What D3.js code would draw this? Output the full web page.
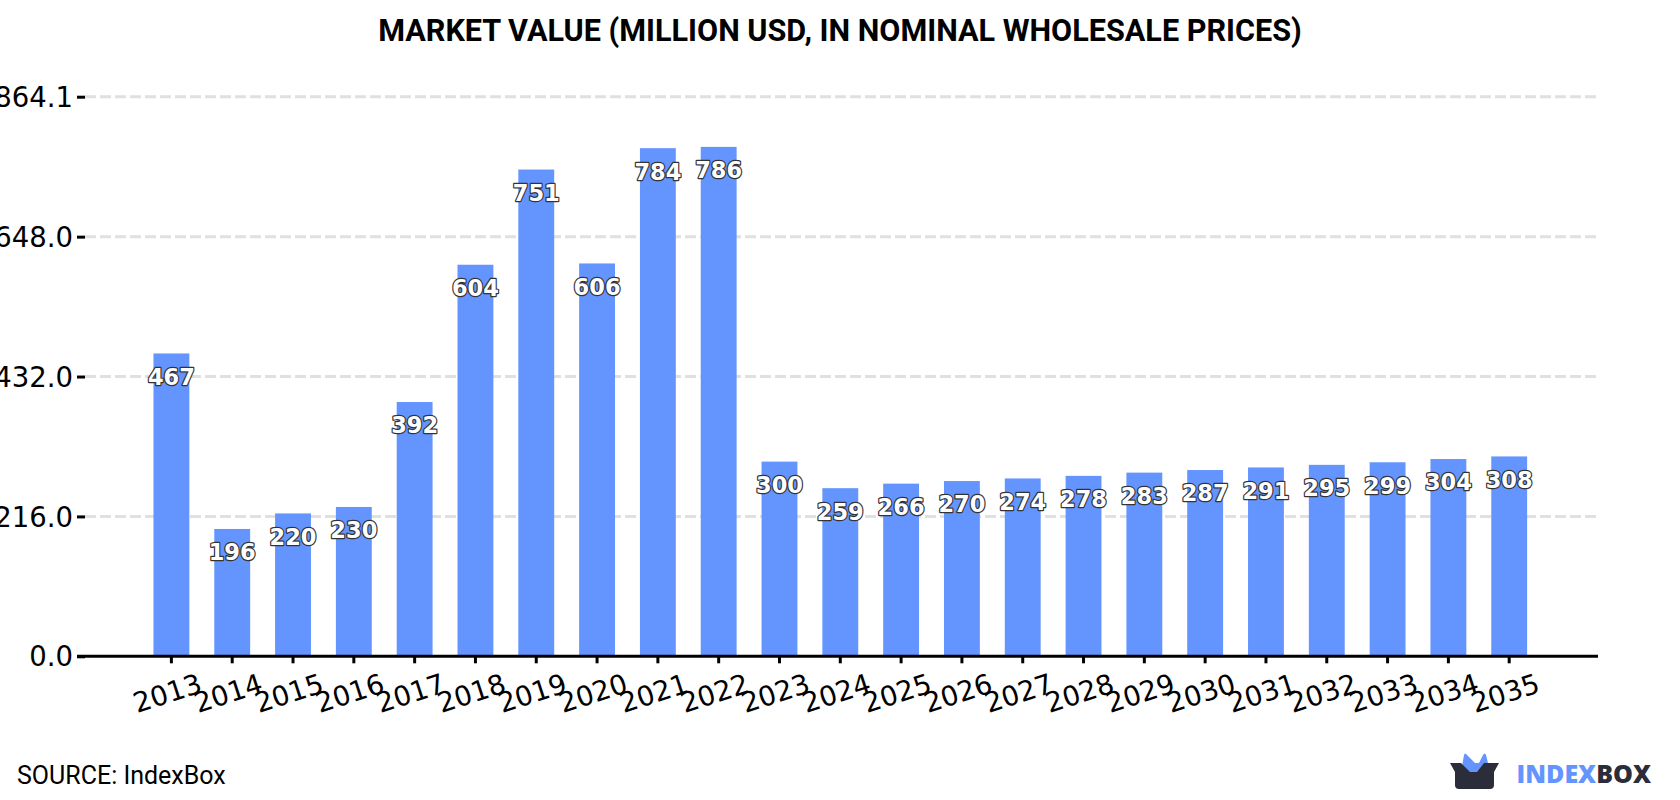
<!DOCTYPE html>
<html>
<head>
<meta charset="utf-8">
<script src="https://cdn.jsdelivr.net/npm/d3@7"></script>
<style>
  html, body { margin: 0; padding: 0; background: #fff; overflow: hidden; }
  svg { display: block; }
  .tick-y text, .tick-x text { font-family: "DejaVu Sans", sans-serif; font-size: 27.5px; fill: #000; }
</style>
</head>
<body>
<svg id="chart" width="1680" height="800"></svg>
<script>
const years = ["2013","2014","2015","2016","2017","2018","2019","2020","2021","2022","2023","2024",
               "2025","2026","2027","2028","2029","2030","2031","2032","2033","2034","2035"];
const marketValues = [467,196,220,230,392,604,751,606,784,786,300,259,266,270,274,278,283,287,291,295,299,304,308];
const yTicks = [0, 216, 432, 648, 864.1];
const chartTitle = "MARKET VALUE (MILLION USD, IN NOMINAL WHOLESALE PRICES)";
const sourceText = "SOURCE: IndexBox";

const BAR_COLOR = "#6495ff";
const DARK = "#2b2d3a";

const svg = d3.select("#chart");

const y = d3.scaleLinear().domain([0, 864.1]).range([656.3, 96.7]);
const x = d3.scaleBand().domain(years).range([141, 1539.6]).paddingInner(0.41).paddingOuter(0.205);
const axisLeft = 77, axisRight = 1598;

svg.append("text")
  .attr("x", 840).attr("y", 41)
  .attr("text-anchor", "middle")
  .attr("font-family", "Roboto, sans-serif")
  .attr("font-weight", 700)
  .attr("font-size", 30.6)
  .attr("fill", "#000")
  .text(chartTitle);

// Dashed gridlines, skipping the baseline
svg.append("g").selectAll("line")
  .data(yTicks.filter(d => d > 0))
  .join("line")
  .attr("x1", 85).attr("x2", axisRight)
  .attr("y1", d => y(d)).attr("y2", d => y(d))
  .attr("stroke", "#e0e0e0")
  .attr("stroke-width", 3)
  .attr("stroke-dasharray", "11 4");

// Bars
svg.append("g").selectAll("rect")
  .data(years)
  .join("rect")
  .attr("x", d => x(d))
  .attr("width", x.bandwidth())
  .attr("y", (d, i) => y(marketValues[i]) - 0.4)
  .attr("height", (d, i) => y(0) - y(marketValues[i]) + 0.4)
  .attr("fill", BAR_COLOR);

// Y axis
const gy = svg.append("g").attr("class", "tick-y")
  .attr("transform", `translate(${axisLeft + 8},0)`)
  .call(d3.axisLeft(y).tickValues(yTicks).tickFormat(d3.format(".1f")).tickSize(8).tickPadding(4));
gy.select(".domain").remove();
gy.selectAll(".tick line").attr("stroke", "#000").attr("stroke-width", 3);
gy.selectAll(".tick text").attr("dy", "0.35em");

// X axis with slanted year labels
const gx = svg.append("g").attr("class", "tick-x")
  .attr("transform", `translate(0,${y(0)})`)
  .call(d3.axisBottom(x).tickSize(7).tickSizeOuter(0));
gx.select(".domain").remove();
gx.selectAll(".tick line").attr("stroke", "#000").attr("stroke-width", 3);
gx.selectAll(".tick text")
  .attr("text-anchor", "middle")
  .attr("dy", 0).attr("y", 0)
  .attr("transform", "translate(-1,46) rotate(-18)");

svg.append("line")
  .attr("x1", axisLeft).attr("x2", axisRight)
  .attr("y1", y(0)).attr("y2", y(0))
  .attr("stroke", "#000").attr("stroke-width", 3);

// Value labels inside the top of each bar
svg.append("g").selectAll("text")
  .data(years)
  .join("text")
  .attr("x", d => x(d) + x.bandwidth() / 2)
  .attr("y", (d, i) => y(marketValues[i]) + 31)
  .attr("text-anchor", "middle")
  .attr("font-family", "'DejaVu Sans', sans-serif")
  .attr("font-weight", 700)
  .attr("font-size", 22.5)
  .attr("fill", "#fff")
  .attr("stroke", "#333")
  .attr("stroke-width", 2.4)
  .attr("paint-order", "stroke")
  .attr("stroke-linejoin", "round")
  .text((d, i) => marketValues[i]);

svg.append("text")
  .attr("x", 17).attr("y", 784)
  .attr("font-family", "Roboto, sans-serif")
  .attr("font-size", 25)
  .attr("fill", "#000")
  .text(sourceText);

// Brand mark: crown over an open box, then the wordmark
const logo = svg.append("g");
logo.append("path")
  .attr("fill", BAR_COLOR)
  .attr("d", "M1461 772 L1464 755 Q1465 752 1467 755 L1475 763 L1479 763 L1483 755 Q1485 752 1486 755 L1488 763 L1489 772 Z");
logo.append("path")
  .attr("fill", DARK)
  .attr("d", "M1450 763 L1461 763 L1470 772 L1477 772 L1484 763 L1499 763 L1494 772 L1494 785 Q1494 789 1490 789 L1459 789 Q1455 789 1455 785 L1455 772 Z");
const mark = logo.append("text")
  .attr("x", 1516.5).attr("y", 783)
  .attr("font-family", "'Open Sans', sans-serif")
  .attr("font-weight", 800)
  .attr("font-size", 25);
mark.append("tspan").attr("fill", BAR_COLOR).text("INDEX");
mark.append("tspan").attr("fill", DARK).text("BOX");
</script>
</body>
</html>
